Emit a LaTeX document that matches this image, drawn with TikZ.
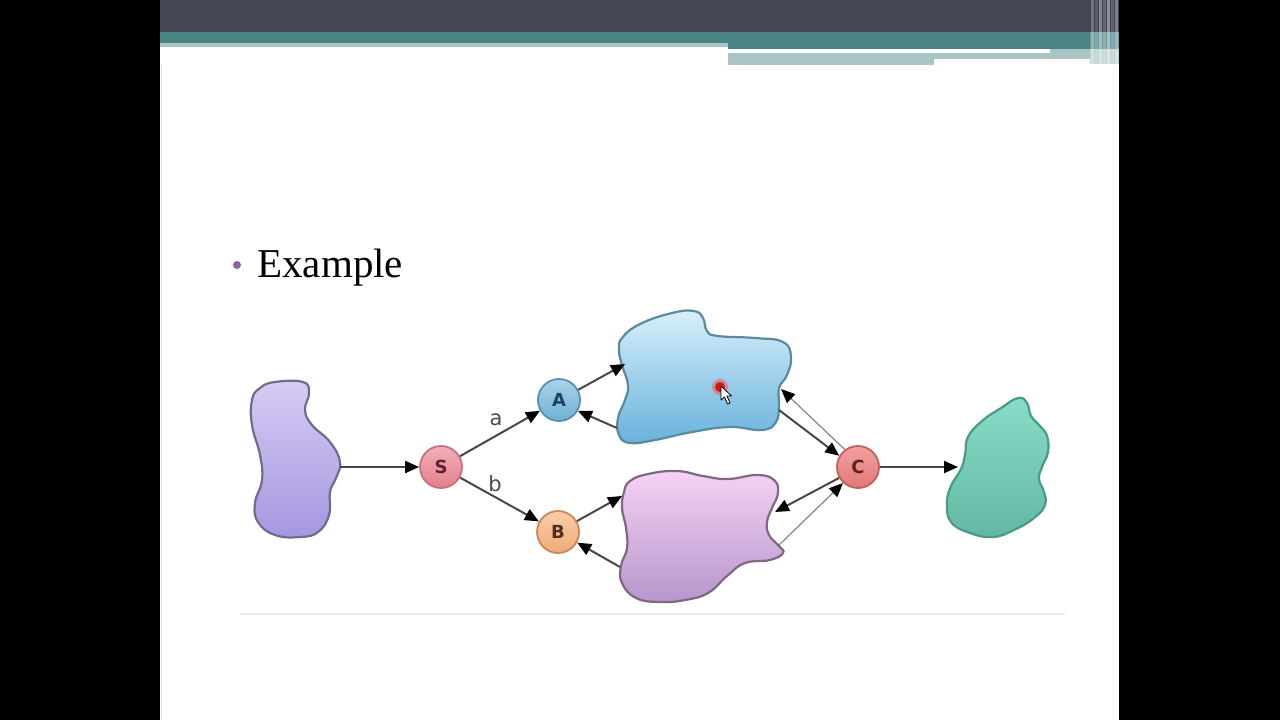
\documentclass[tikz,border=0pt]{standalone}
\usepackage{fontspec}
\setmainfont{Liberation Serif}
\newfontfamily\lblfont{DejaVu Sans}
\usetikzlibrary{arrows.meta}
\definecolor{hdrdark}{HTML}{424655}
\definecolor{hdrteal}{HTML}{4A8484}
\definecolor{hdrlight}{HTML}{A9C4C5}
\definecolor{edgecol}{HTML}{474747}
\definecolor{thincol}{HTML}{858585}
\definecolor{bulletcol}{HTML}{9060A8}
\tikzset{
  edge/.style={draw=edgecol, line width=1pt, -{Triangle[length=7pt,width=6pt,color=black]}},
  thinedge/.style={draw=thincol, line width=0.6pt, -{Triangle[length=7pt,width=6pt,color=black]}},
  circnode/.style={circle, minimum size=21pt, inner sep=0pt, line width=0.9pt,
     font=\lblfont\bfseries\fontsize{9}{9}\selectfont},
  blob/.style={line width=1.1pt},
  lbl/.style={font=\lblfont\fontsize{10.5}{10.5}\selectfont, text=black!70, inner sep=0pt}
}
\begin{document}
\begin{tikzpicture}[x=0.5pt,y=-0.5pt]
\useasboundingbox (0,0) rectangle (1280,720);
% background
\fill[black] (0,0) rectangle (1280,720);
\fill[white] (160,0) rectangle (1119,720);
\draw[black!12, line width=0.5pt] (161,64) -- (161,720);
% header
\fill[hdrdark] (160,0) rectangle (1119,32);
\fill[hdrteal] (160,32) rectangle (1095,43);
\fill[hdrteal] (728,43) rectangle (1095,49);
\fill[hdrlight] (160,43) rectangle (728,47);
\fill[white] (728,49) rectangle (1050,53);
\fill[hdrlight] (1050,49) rectangle (1095,55);
\fill[hdrlight] (728,53) rectangle (1095,59);
\fill[hdrlight] (728,59) rectangle (934,65);
\fill[hdrteal!60!hdrlight] (1090,32) rectangle (1119,49);
\fill[hdrlight!70!white] (1090,49) rectangle (1119,64);
\foreach \xx/\op in {1091/0.25,1095/0.12,1099/0.35,1103/0.18,1107/0.4,1111/0.15,1115/0.3}{
  \fill[white, opacity=\op] (\xx,0) rectangle ++(2.5,64);
}
% bullet and title
\fill[bulletcol] (237,265) circle (4);
\node[anchor=base west, inner sep=0pt, font=\fontsize{20.5}{24}\selectfont] (title) at (257,277) {Example};
% bottom faint line
\draw[black!8, line width=0.6pt] (240,614) -- (1065,614);

% blobs
\path[blob, draw={rgb,255:red,112;green,108;blue,140}, top color={rgb,255:red,214;green,204;blue,244}, bottom color={rgb,255:red,166;green,150;blue,224}]
  plot[smooth cycle, tension=0.75] coordinates {(275,382) (303,382) (309,393) (305,410) (312,425) (330,442) (340,462) (336,478) (330,492) (329,515) (318,532) (300,537) (275,535) (258,522) (255,503) (262,480) (260,455) (252,425) (252,400) (260,388)};
\path[blob, draw={rgb,255:red,90;green,138;blue,160}, top color={rgb,255:red,216;green,239;blue,250}, bottom color={rgb,255:red,104;green,178;blue,220}]
  plot[smooth cycle, tension=0.75] coordinates {(622,338) (640,324) (672,313) (694,311) (703,318) (707,331) (718,336) (755,338) (783,342) (791,357) (787,375) (779,388) (779,405) (776,422) (762,430) (730,427) (692,432) (655,440) (630,443) (619,435) (618,418) (625,400) (628,385) (622,365) (619,350)};
\path[blob, draw={rgb,255:red,128;green,104;blue,128}, top color={rgb,255:red,246;green,210;blue,244}, bottom color={rgb,255:red,182;green,150;blue,204}]
  plot[smooth cycle, tension=0.75] coordinates {(630,481) (648,474) (677,471) (703,476) (728,479) (757,475) (774,480) (778,493) (772,508) (767,522) (769,535) (779,546) (783,553) (770,560) (745,563) (727,576) (708,593) (685,600) (660,602) (636,598) (622,583) (621,566) (627,548) (626,528) (622,508) (624,492)};
\path[blob, draw={rgb,255:red,74;green,154;blue,136}, top color={rgb,255:red,136;green,220;blue,200}, bottom color={rgb,255:red,98;green,184;blue,162}]
  plot[smooth cycle, tension=0.75] coordinates {(982,421) (1001,408) (1018,398) (1027,403) (1031,416) (1040,426) (1047,436) (1048,452) (1042,467) (1039,479) (1044,492) (1045,505) (1034,518) (1014,530) (993,537) (970,533) (951,522) (947,503) (951,486) (961,469) (965,455) (968,437)};

% circle nodes
\node[circnode, draw={rgb,255:red,200;green,112;blue,128}, top color={rgb,255:red,244;green,176;blue,184}, bottom color={rgb,255:red,226;green,128;blue,142}, text={rgb,255:red,96;green,32;blue,48}] (S) at (441,467) {S};
\node[circnode, draw={rgb,255:red,88;green,144;blue,176}, top color={rgb,255:red,170;green,212;blue,234}, bottom color={rgb,255:red,110;green,176;blue,214}, text={rgb,255:red,32;green,64;blue,96}] (A) at (559,400) {A};
\node[circnode, draw={rgb,255:red,200;green,136;blue,88}, top color={rgb,255:red,250;green,206;blue,168}, bottom color={rgb,255:red,240;green,170;blue,120}, text={rgb,255:red,80;green,48;blue,32}] (B) at (558,532) {B};
\node[circnode, draw={rgb,255:red,192;green,96;blue,96}, top color={rgb,255:red,244;green,160;blue,160}, bottom color={rgb,255:red,226;green,120;blue,120}, text={rgb,255:red,96;green,32;blue,32}] (C) at (858,467) {C};

% blob contact points
\coordinate (pR) at (340,467);
\coordinate (bl1) at (625,364);
\coordinate (bl2) at (617,428);
\coordinate (bl3) at (779,410);
\coordinate (bl4) at (781,389);
\coordinate (pk1) at (622,496);
\coordinate (pk2) at (620,567);
\coordinate (pk3) at (775,512);
\coordinate (pk4) at (779,545);
\coordinate (gr) at (958,467);

% edges
\draw[edge] (pR) -- (S);
\draw[edge] (S) -- (A);
\draw[edge] (S) -- (B);
\node[lbl] (la) at (496,420) {a};
\node[lbl] (lb) at (495,484) {b};
\draw[edge] (A.28) -- (bl1);
\draw[edge] (bl2) -- (A.330);
\draw[edge] (B.30) -- (pk1);
\draw[edge] (pk2) -- (B.331);
\draw[edge] (bl3) -- (C.149);
\draw[thinedge] (C.127) -- (bl4);
\draw[edge] (C.210) -- (pk3);
\draw[thinedge] (pk4) -- (C.227);
\draw[edge] (C) -- (gr);

% cursor
\fill[red!70!white, opacity=0.5] (720,387) circle (8);
\fill[red!85!black, opacity=0.85] (720,387) circle (5);
\draw[black, fill=white, line width=0.4pt, line join=round]
  (721,386) -- (721,400) -- (724.5,397) -- (727.5,404) -- (730,403) -- (727,396) -- (731.5,396) -- cycle;
\end{tikzpicture}
\end{document}
